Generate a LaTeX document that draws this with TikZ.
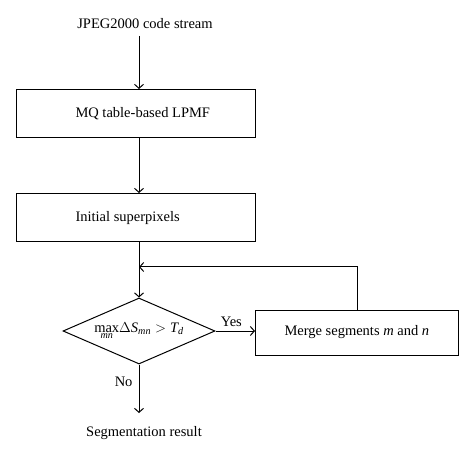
\documentclass[tikz,border=0pt]{standalone}
\usepackage{fontspec}
\setmainfont{Liberation Serif}
\usetikzlibrary{arrows.meta,shapes.geometric}
\begin{document}
\begin{tikzpicture}[x=1pt,y=-1pt,
  line width=1pt,
  every node/.style={font=\fontsize{14.5}{17}\selectfont, inner sep=0pt},
  procbox/.style={draw, minimum width=239pt, minimum height=48pt, anchor=north west},
  arr/.style={-{Straight Barb[length=4pt,width=9pt]}}]
\useasboundingbox (0,0) rectangle (474,457);
\node (src) at (145,24) {JPEG2000 code stream};
\node[procbox] (b1) at (16,89) {};
\node[anchor=west] (t1) at (75,114) {MQ table-based LPMF};
\node[procbox] (b2) at (16,193) {};
\node[anchor=west] (t2) at (75,218) {Initial superpixels};
\node[draw, diamond, aspect=2.3, minimum width=152pt, minimum height=66pt] (d) at (139,331)
  {\raisebox{2pt}{$\mathop{\mathrm{max}}\limits_{\mathit{mn}}\!\Delta\mathit{S}_{\mathit{mn}} > \mathit{T}_{\mathit{d}}$}};
\node[draw, minimum width=203pt, minimum height=45pt, anchor=north west] (m) at (255,310) {};
\node[anchor=west] (mt) at (284,332) {Merge segments \textit{m} and \textit{n}};
\node (res) at (144,433) {Segmentation result};
\coordinate (src0) at (139,36);
\coordinate (junc) at (139,267);
\coordinate (fb) at (357,267);
\coordinate (endp) at (139,413);
\draw[arr] (src0) -- (b1.north -| src0);
\draw[arr] (b1.south -| src0) -- (b2.north -| src0);
\draw[arr] (b2.south -| src0) -- (d.north);
\draw[arr] (m.north -| fb) -- (fb) -- (junc);
\draw[arr] (d.east) -- node[above=4pt, pos=0.4] (yes) {Yes} (m.west |- d.east);
\draw[arr] (d.south) -- node[left=6pt, pos=0.35] (no) {No} (endp);
\end{tikzpicture}
\end{document}
